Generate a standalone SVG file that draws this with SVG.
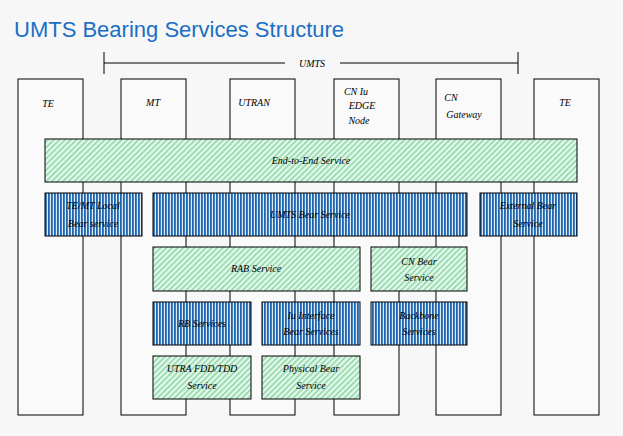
<svg xmlns="http://www.w3.org/2000/svg" width="623" height="436" viewBox="0 0 623 436">
<defs>
<pattern id="g" width="4" height="4" patternUnits="userSpaceOnUse" patternTransform="rotate(45)"><rect width="4" height="4" fill="#e4f8ec"/><rect width="1.6" height="4" fill="#8fd6a8"/></pattern>
<pattern id="b" width="3" height="3" patternUnits="userSpaceOnUse"><rect width="3" height="3" fill="#dfeaf5"/><rect width="1.8" height="3" fill="#1f66b0"/></pattern>
<style>
.col{fill:#fafafa;stroke:#000;stroke-width:1}
.gb{fill:url(#g);stroke:#000;stroke-width:1}
.bb{fill:url(#b);stroke:#000;stroke-width:1}
text{font-family:"Liberation Serif",serif;font-style:italic;font-size:10px;fill:#000;text-anchor:middle}
</style>
</defs>
<rect width="623" height="436" fill="#f7f7f7"/>
<text x="14" y="37" style="font-family:'Liberation Sans',sans-serif;font-style:normal;font-size:22px;fill:#1a6fc4;text-anchor:start">UMTS Bearing Services Structure</text>
<g id="umts-span" stroke="#000" fill="none">
<path d="M104 52V74M104 63H285M340 63H518M518 52V74"/>
<text x="312" y="67" stroke="none">UMTS</text>
</g>
<g id="columns">
<g id="col-te1"><rect class="col" x="18" y="79" width="65" height="336"/><text x="48" y="107">TE</text></g>
<g id="col-mt"><rect class="col" x="121" y="79" width="65" height="336"/><text x="153" y="106">MT</text></g>
<g id="col-utran"><rect class="col" x="230" y="79" width="65" height="336"/><text x="254" y="106">UTRAN</text></g>
<g id="col-cn"><rect class="col" x="334" y="79" width="65" height="336"/><text x="356" y="95">CN Iu</text><text x="362" y="109">EDGE</text><text x="359" y="124">Node</text></g>
<g id="col-gw"><rect class="col" x="436" y="79" width="65" height="336"/><text x="451" y="101">CN</text><text x="464" y="118">Gateway</text></g>
<g id="col-te2"><rect class="col" x="534" y="79" width="65" height="336"/><text x="565" y="106">TE</text></g>
</g>
<g id="e2e"><rect class="gb" x="45" y="139" width="532" height="43"/><text x="311" y="164">End-to-End Service</text></g>
<g id="local"><rect class="bb" x="45" y="193" width="97" height="43"/><text x="93" y="209">TE/MT Local</text><text x="93" y="227">Bear service</text></g>
<g id="umtsbear"><rect class="bb" x="153" y="193" width="314" height="43"/><text x="310" y="218">UMTS Bear Service</text></g>
<g id="ext"><rect class="bb" x="480" y="193" width="97" height="43"/><text x="528" y="209">External Bear</text><text x="528" y="227">Service</text></g>
<g id="rab"><rect class="gb" x="153" y="247" width="207" height="44"/><text x="256" y="272">RAB Service</text></g>
<g id="cnbear"><rect class="gb" x="371" y="247" width="96" height="44"/><text x="419" y="265">CN Bear</text><text x="419" y="281">Service</text></g>
<g id="rb"><rect class="bb" x="153" y="302" width="98" height="43"/><text x="202" y="327">RB Services</text></g>
<g id="iu"><rect class="bb" x="262" y="302" width="98" height="43"/><text x="311" y="319">Iu Interface</text><text x="311" y="335">Bear Services</text></g>
<g id="backbone"><rect class="bb" x="371" y="302" width="96" height="43"/><text x="419" y="319">Backbone</text><text x="419" y="335">Services</text></g>
<g id="utra"><rect class="gb" x="153" y="356" width="98" height="43"/><text x="202" y="372">UTRA FDD/TDD</text><text x="202" y="389">Service</text></g>
<g id="phys"><rect class="gb" x="262" y="356" width="98" height="43"/><text x="311" y="372">Physical Bear</text><text x="311" y="389">Service</text></g>
</svg>
